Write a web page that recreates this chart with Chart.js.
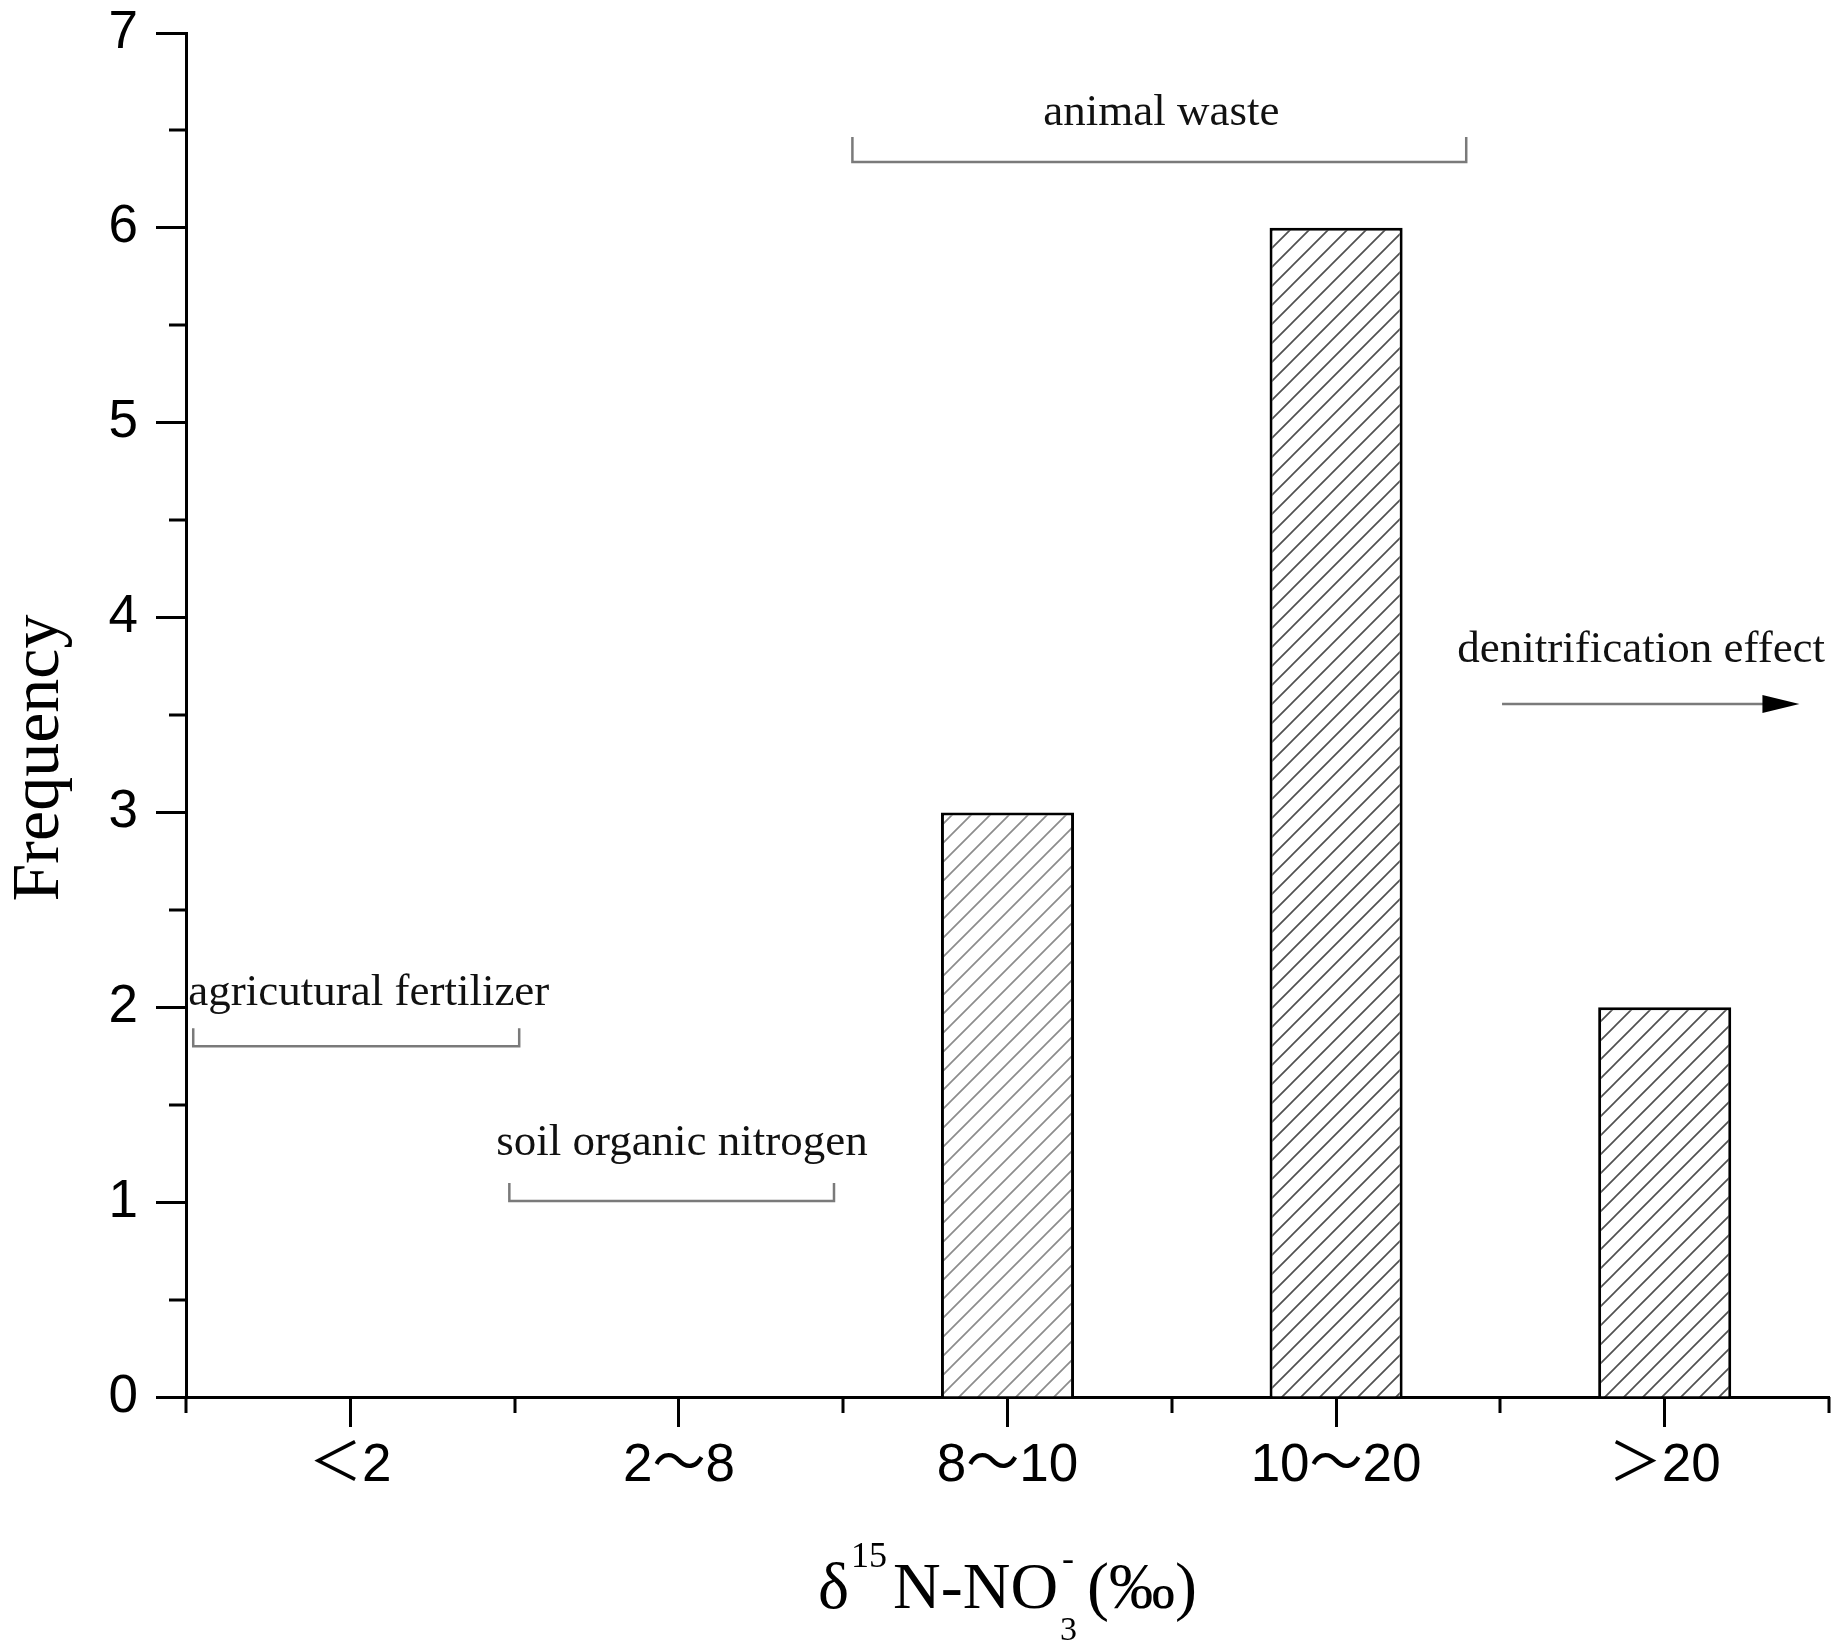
<!DOCTYPE html>
<html><head><meta charset="utf-8">
<script src="https://cdn.jsdelivr.net/npm/chart.js@4.4.1/dist/chart.umd.min.js"></script>
<style>html,body{margin:0;padding:0;background:#fff;} canvas{display:block;}</style>
</head><body>
<canvas id="c" width="1843" height="1642" style="width:1843px;height:1642px"></canvas>
<script>
// ---- data ----
const categories = ['＜2', '2～8', '8～10', '10～20', '＞20'];
const frequency = [0, 0, 3, 6, 2];
const yMin = 0, yMax = 7;
const xTitleParts = ['δ', '15', 'N-NO', '3', '-', '(‰)'];
const yTitle = 'Frequency';
// source ranges (in category units) and the frequency level they sit at
const sourceNames = ['agricutural fertilizer', 'soil organic nitrogen', 'animal waste'];
const sourceStart = [-0.478, 0.484, 1.528];
const sourceEnd = [0.514, 1.472, 3.396];
const sourceLevel = [1.80, 1.006, 6.338];
const labelLevel = [2.01, 1.242, 6.528];
const arrowName = 'denitrification effect';
const arrowStart = 3.505, arrowEnd = 4.41, arrowLevel = 3.556, arrowLabelX = 3.369, arrowLabelLevel = 3.772;

// ---- styles ----
const hatchColors = ['#555', '#555', '#8c8c8c', '#505050', '#505050'];
function hatch(color) {
  const s = 19;
  const c = document.createElement('canvas');
  c.width = s; c.height = s;
  const g = c.getContext('2d');
  g.fillStyle = '#fff'; g.fillRect(0, 0, s, s);
  g.strokeStyle = color; g.lineWidth = 1.7;
  g.beginPath();
  g.moveTo(0, s); g.lineTo(s, 0);
  g.moveTo(-2, 2); g.lineTo(2, -2);
  g.moveTo(s - 2, s + 2); g.lineTo(s + 2, s - 2);
  g.stroke();
  return g.createPattern(c, 'repeat');
}
const SANS = "'Liberation Sans', 'Noto Sans CJK SC', sans-serif";
const SERIF = "'Liberation Serif', 'DejaVu Serif', serif";

const overlay = {
  id: 'overlay',
  afterDraw(chart) {
    const { ctx, chartArea: a, scales: { x, y } } = chart;
    ctx.save();
    // minor ticks
    ctx.strokeStyle = '#000'; ctx.lineWidth = 3;
    ctx.beginPath();
    for (let i = 0; i <= categories.length; i++) {
      const px = Math.round(x.getPixelForValue(i - 0.5));
      ctx.moveTo(px, a.bottom); ctx.lineTo(px, a.bottom + 16);
    }
    for (let v = yMin + 0.5; v < yMax; v += 1) {
      const py = Math.round(y.getPixelForValue(v));
      ctx.moveTo(a.left - 17, py); ctx.lineTo(a.left, py);
    }
    ctx.stroke();

    // brackets
    ctx.strokeStyle = '#7a7a7a'; ctx.lineWidth = 2.5;
    const tickH = [18, 18, 25];
    ctx.fillStyle = '#111';
    ctx.font = '45px ' + SERIF;
    ctx.textBaseline = 'alphabetic';
    for (let i = 0; i < sourceNames.length; i++) {
      const x0 = x.getPixelForValue(sourceStart[i]);
      const x1 = x.getPixelForValue(sourceEnd[i]);
      const py = y.getPixelForValue(sourceLevel[i]);
      ctx.beginPath();
      ctx.moveTo(x0, py - tickH[i]); ctx.lineTo(x0, py); ctx.lineTo(x1, py); ctx.lineTo(x1, py - tickH[i]);
      ctx.stroke();
    }
    // bracket labels
    ctx.textAlign = 'left';
    ctx.fillText(sourceNames[0], x.getPixelForValue(-0.493), y.getPixelForValue(labelLevel[0]));
    ctx.fillText(sourceNames[1], x.getPixelForValue(0.444), y.getPixelForValue(labelLevel[1]));
    ctx.textAlign = 'center';
    ctx.fillText(sourceNames[2], x.getPixelForValue(2.468), y.getPixelForValue(labelLevel[2]));

    // arrow
    const ax0 = x.getPixelForValue(arrowStart), ax1 = x.getPixelForValue(arrowEnd);
    const ay = y.getPixelForValue(arrowLevel);
    ctx.beginPath(); ctx.moveTo(ax0, ay); ctx.lineTo(ax1 - 30, ay); ctx.stroke();
    ctx.fillStyle = '#000';
    ctx.beginPath(); ctx.moveTo(ax1, ay); ctx.lineTo(ax1 - 37, ay - 9); ctx.lineTo(ax1 - 37, ay + 9); ctx.closePath(); ctx.fill();
    ctx.fillStyle = '#111';
    ctx.textAlign = 'left';
    ctx.fillText(arrowName, x.getPixelForValue(arrowLabelX), y.getPixelForValue(arrowLabelLevel));

    // y title
    ctx.fillStyle = '#000';
    ctx.font = '68px ' + SERIF;
    ctx.textAlign = 'center';
    ctx.save();
    ctx.translate(a.left - 128, (a.top + a.bottom) / 2 + 43);
    ctx.rotate(-Math.PI / 2);
    ctx.fillText(yTitle, 0, 0);
    ctx.restore();

    // x title with super/subscripts
    const main = '66px ' + SERIF, sup = '36px ' + SERIF, sub = '34px ' + SERIF;
    const base = a.bottom + 211;
    const pieces = [
      { t: xTitleParts[0], f: main, dy: 0 },
      { t: xTitleParts[1], f: sup, dy: -41, gap: 2 },
      { t: xTitleParts[2], f: main, dy: 0, gap: 6 },
      { t: xTitleParts[3], f: sub, dy: 32, stack: true, gap: 2 },
      { t: xTitleParts[4], f: sup, dy: -38, gap: 2 },
      { t: xTitleParts[5], f: main, dy: 0, gap: 8 }
    ];
    const widths = pieces.map(p => { ctx.font = p.f; return ctx.measureText(p.t).width; });
    let total = 0;
    pieces.forEach((p, i) => {
      total += p.gap || 0;
      if (p.stack) return;
      if (i > 0 && pieces[i - 1].stack) total += Math.max(widths[i], widths[i - 1]);
      else total += widths[i];
    });
    let cx = (a.left + a.right) / 2 - total / 2;
    ctx.textAlign = 'left';
    pieces.forEach((p, i) => {
      cx += p.gap || 0;
      ctx.font = p.f;
      ctx.fillText(p.t, cx, base + p.dy);
      if (p.stack) return;
      if (i > 0 && pieces[i - 1].stack) cx += Math.max(widths[i], widths[i - 1]);
      else cx += widths[i];
    });
    ctx.restore();
  }
};

new Chart(document.getElementById('c'), {
  type: 'bar',
  data: {
    labels: categories,
    datasets: [{
      data: frequency,
      backgroundColor: hatchColors.map(hatch),
      borderColor: '#000',
      borderWidth: 3,
      borderSkipped: 'start',
      barPercentage: 0.405,
      categoryPercentage: 1
    }]
  },
  options: {
    responsive: false,
    animation: false,
    devicePixelRatio: 1,
    layout: { padding: { top: 33, right: 14, left: 0, bottom: 0 } },
    plugins: { legend: { display: false }, tooltip: { enabled: false } },
    scales: {
      x: {
        type: 'category',
        offset: true,
        z: 1,
        grid: { display: true, offset: false, drawOnChartArea: false, drawTicks: true, tickLength: 30, tickWidth: 3, tickColor: '#000' },
        border: { display: true, color: '#000', width: 3 },
        ticks: { color: '#000', font: { family: SANS, size: 53 }, padding: 8, maxRotation: 0, autoSkip: false },
        afterFit(s) { s.height = 245; s.paddingLeft = 0; s.paddingRight = 0; }
      },
      y: {
        min: yMin, max: yMax,
        z: 1,
        grid: { display: true, drawOnChartArea: false, drawTicks: true, tickLength: 30, tickWidth: 3, tickColor: '#000' },
        border: { display: true, color: '#000', width: 3 },
        ticks: { stepSize: 1, color: '#000', font: { family: SANS, size: 53 }, padding: 18 },
        afterFit(s) { s.width = 186; s.paddingTop = 0; s.paddingBottom = 0; }
      }
    }
  },
  plugins: [overlay]
});
</script>
</body></html>
